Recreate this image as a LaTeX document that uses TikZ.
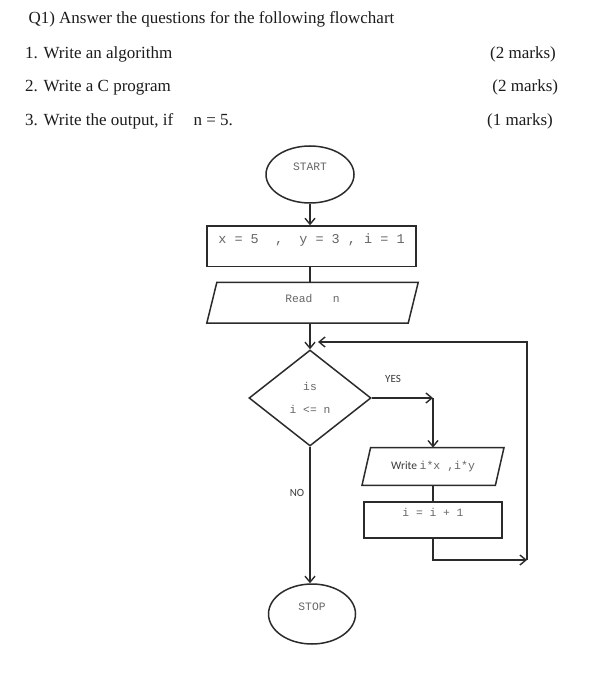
\documentclass[tikz,border=0pt]{standalone}
\usepackage{fontspec}
\setmainfont{Liberation Serif}
\newfontfamily\monof{Liberation Mono}
\newfontfamily\calib{Carlito}
\usetikzlibrary{shapes.geometric,arrows.meta}
\definecolor{lc}{HTML}{2B2B2B}
\definecolor{tc}{HTML}{666666}
\definecolor{hc}{HTML}{1C1C1C}
\definecolor{cc}{HTML}{3A3A3A}
\begin{document}
\begin{tikzpicture}[x=1pt,y=-1pt,
 ln/.style={draw=lc, line width=1.5pt},
 arr/.style={ln, -{Straight Barb[length=6pt,width=10pt,line width=1.4pt]}},
 hd/.style={font=\fontsize{17}{20}\selectfont, text=hc, inner sep=0},
 mono/.style={font=\monof\fontsize{11.3}{13.5}\selectfont, text=tc},
 term/.style={ln, ellipse, minimum width=88, minimum height=57, inner sep=0, mono},
 procbox/.style={ln, rectangle, inner sep=0, mono},
 iobox/.style={rectangle, inner sep=0, mono},
 lift/.style={text height=8pt, text depth=#1},
 cal/.style={font=\calib\fontsize{11}{13}\selectfont, text=cc},
]
\fill[white] (0,0) rectangle (593,700);
\useasboundingbox (0,0) rectangle (593,700);

% header text
\node[hd, anchor=base west] (q) at (28.3,24) {Q1) Answer the questions for the following flowchart};
\node[hd, anchor=base west] (t1) at (25,58.5) {1. Write an algorithm};
\node[hd, anchor=base west] (t2) at (25,92) {2. Write a C program};
\node[hd, anchor=base west] (t3) at (25,126) {3. Write the output, if\hspace{1.2em}n = 5.};
\node[hd, anchor=base east] (m1) at (556,58.5) {(2 marks)};
\node[hd, anchor=base east] (m2) at (558.3,92) {(2 marks)};
\node[hd, anchor=base east] (m3) at (553,126) {(1 marks)};

% flowchart
\node[term, lift=16.6pt] (start) at (310,174.5) {START};
\node[procbox, minimum width=209, minimum height=40.5, font=\monof\fontsize{13.5}{16}\selectfont, lift=12.9pt] (init) at (311.5,246.3) {x = 5\ \ ,\ \ y = 3 , i = 1};
\node[iobox, minimum width=201, minimum height=40.3, lift=9.2pt] (read) at (312.5,302.8) {Read\ \ \ n};
\draw[ln, line join=miter] ([xshift=5]read.north west) -- ([xshift=5]read.north east) -- ([xshift=-5]read.south east) -- ([xshift=-5]read.south west) -- cycle;
\node[ln, diamond, minimum width=122, minimum height=96, inner sep=0, mono, align=center] (cond) at (310,398) {is\\[10pt]i <= n};
\node[iobox, minimum width=133, minimum height=37.3, font=\calib\fontsize{11.5}{13}\selectfont, text=cc] (out) at (433,466.4) {Write {\monof\color{tc} i*x ,i*y}};
\draw[ln, line join=miter] ([xshift=4.3]out.north west) -- ([xshift=4.3]out.north east) -- ([xshift=-4.3]out.south east) -- ([xshift=-4.3]out.south west) -- cycle;
\node[procbox, minimum width=138, minimum height=36.3, lift=15.6pt] (inc) at (433,520) {i = i + 1};
\node[term, minimum width=87, minimum height=60, lift=15.6pt] (stop) at (312,614) {STOP};

\node[cal] (yes) at (393,379) {YES};
\node[cal] (no) at (297,493) {NO};

\coordinate (c1) at (527,560);
\coordinate (c2) at (318,342);

\draw[arr] (start.south) -- (start.south |- init.north);
\draw[ln] (init.south -| start.south) -- (read.north -| start.south);
\draw[arr] (read.south -| cond.north) -- (cond.north);
\draw[arr] (cond.east) -- (cond.east -| out.north) coordinate (yc);
\draw[arr] (yc) -- (out.north);
\draw[ln] (out.south) -- (out.south |- inc.north);
\draw[arr] (inc.south) |- (c1);
\draw[arr] (c1) |- (c2);
\draw[arr] (cond.south) -- (cond.south |- stop.north);
\end{tikzpicture}
\end{document}
